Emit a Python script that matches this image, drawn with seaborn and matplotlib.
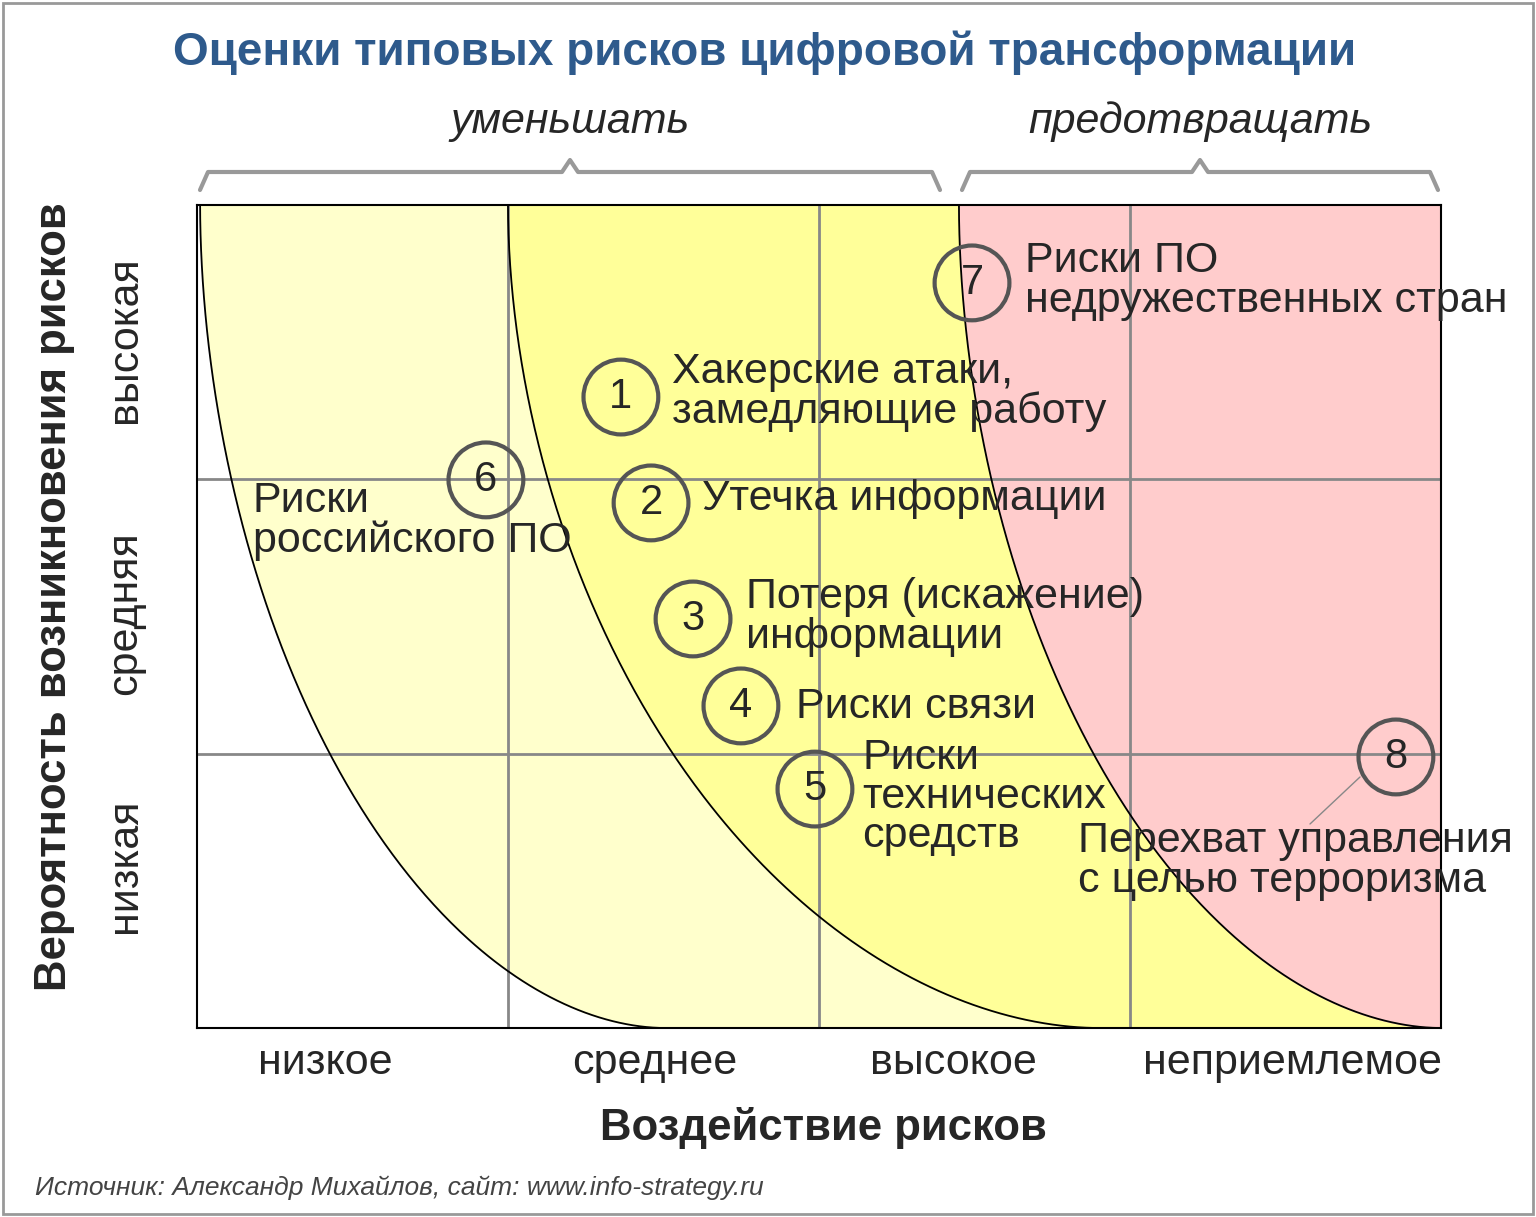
import numpy as np
import seaborn as sns
import matplotlib.pyplot as plt
import pandas as pd

# риски: номер, воздействие (x), вероятность (y)
risk_ids = [1, 2, 3, 4, 5, 6, 7, 8]
risk_x = [1.363, 1.460, 1.595, 1.749, 1.987, 0.929, 2.492, 3.855]
risk_y = [2.300, 1.914, 1.491, 1.174, 0.871, 1.998, 2.716, 0.988]
risk_labels = ['Хакерские атаки,\nзамедляющие работу', 'Утечка информации',
               'Потеря (искажение)\nинформации', 'Риски связи',
               'Риски\nтехнических\nсредств', 'Риски\nроссийского ПО',
               'Риски ПО\nнедружественных стран',
               'Перехват управления\nс целью терроризма']
# позиция подписи в пикселях (x, центр блока по y)
label_px = [(672, 392), (702, 499), (746, 617), (796, 707), (862, 797),
            (253, 521), (1025, 281), (1078, 861)]

x_ticks = ['низкое', 'среднее', 'высокое', 'неприемлемое']
y_ticks = ['низкая', 'средняя', 'высокая']
# границы зон: x сверху и x снизу
curve_top = [0.01, 1.0, 2.45]
curve_bottom = [1.505, 2.90, 4.0]

sns.set_style('white')
plt.rcParams['font.family'] = 'Liberation Sans'
fig = plt.figure(figsize=(15.36, 12.17), dpi=100)
W, H = 1536, 1217
ax = fig.add_axes([197 / W, 1 - 1028 / H, 1244 / W, 823 / H])

# кривые границ зон
t = np.linspace(0, np.pi / 2, 300)
p = 1.9
yy = np.linspace(0, 3, 400)
xs = []
for xt, xb in zip(curve_top, curve_bottom):
    cx = xb - (xb - xt) * np.cos(t) ** (2 / p)
    cy = 3 - 3 * np.sin(t) ** (2 / p)
    order = np.argsort(cy)
    xs.append(np.interp(yy, cy[order], cx[order]))
    sns.lineplot(x=cx, y=cy, sort=False, color='black', lw=1.3, ax=ax)

ax.fill_betweenx(yy, xs[0], xs[1], color='#ffffcc', zorder=0)
ax.fill_betweenx(yy, xs[1], xs[2], color='#ffff99', zorder=0)
ax.fill_betweenx(yy, xs[2], 4, color='#ffcccc', zorder=0)

for v in [1, 2, 3]:
    ax.axvline(v, color='#888888', lw=2, zorder=1)
for v in [1, 2]:
    ax.axhline(v, color='#888888', lw=2, zorder=1)

df = pd.DataFrame({'x': risk_x, 'y': risk_y, 'id': risk_ids})
sns.scatterplot(data=df, x='x', y='y', s=2900, facecolor='none',
                edgecolor='#555555', linewidth=3, ax=ax, zorder=3)
for i, x, y in zip(risk_ids, risk_x, risk_y):
    ax.text(x, y, str(i), ha='center', va='center', fontsize=30, zorder=4)

ax.set_xlim(0, 4)
ax.set_ylim(0, 3)
ax.set_xticks([])
ax.set_yticks([])
ax.set_xlabel('')
ax.set_ylabel('')
for s in ax.spines.values():
    s.set_color('black')
    s.set_linewidth(1.5)

# оверлей в пикселях
ov = fig.add_axes([0, 0, 1, 1], facecolor='none')
ov.set_xlim(0, W)
ov.set_ylim(H, 0)
ov.axis('off')

for lab, (px, py) in zip(risk_labels, label_px):
    ov.text(px, py, lab, ha='left', va='center', fontsize=31, linespacing=0.97)
ov.plot([1360, 1310], [777, 824], color='#888888', lw=1)

ov.text(765, 53, 'Оценки типовых рисков цифровой трансформации', ha='center',
        va='center', fontsize=33, fontweight='bold', color='#2e5a8c')
for lab, px in zip(x_ticks, [325, 655, 953, 1292]):
    ov.text(px, 1063, lab, ha='center', va='center', fontsize=31)
for lab, py in zip(y_ticks, [866, 613, 340]):
    ov.text(125, py, lab, ha='center', va='center', fontsize=31, rotation=90)
ov.text(823, 1128, 'Воздействие рисков', ha='center', va='center',
        fontsize=31.5, fontweight='bold')
ov.text(55, 597, 'Вероятность возникновения рисков', ha='center', va='center',
        fontsize=31.5, fontweight='bold', rotation=90)
ov.text(35, 1188, 'Источник: Александр Михайлов, сайт: www.info-strategy.ru',
        ha='left', va='center', fontsize=19, style='italic', color='#444444')

# фигурные скобки
for (a, b), lab in zip([(200, 940), (962, 1438)], ['уменьшать', 'предотвращать']):
    m = (a + b) / 2
    ov.plot([a, a + 8, m - 8, m, m + 8, b - 8, b],
            [190, 172, 172, 160, 172, 172, 190], color='#999999', lw=3)
    ov.text(m, 122, lab, ha='center', va='center', fontsize=31, style='italic')

ov.add_patch(plt.Rectangle((3, 3), W - 6, H - 6, fill=False, ec='#999999', lw=2))

fig.savefig('out.png', dpi=100)
